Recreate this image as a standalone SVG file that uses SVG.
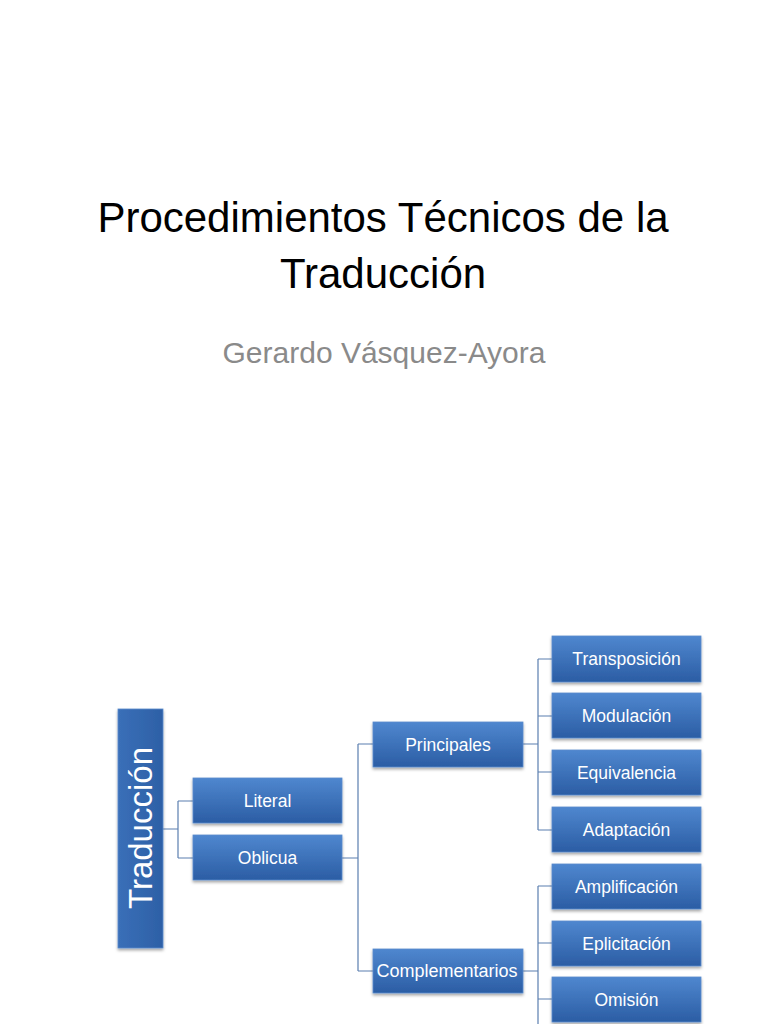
<svg xmlns="http://www.w3.org/2000/svg" width="768" height="1024" viewBox="0 0 768 1024">
<defs>
<linearGradient id="g" x1="0" y1="0" x2="0" y2="1">
<stop offset="0" stop-color="#4f87cf"/>
<stop offset="1" stop-color="#2b5da4"/>
</linearGradient>
<linearGradient id="gv" x1="0" y1="0" x2="1" y2="0">
<stop offset="0" stop-color="#3a6fb8"/>
<stop offset="1" stop-color="#2d60a6"/>
</linearGradient>
<filter id="sh" x="-20%" y="-20%" width="140%" height="150%">
<feDropShadow dx="0" dy="2" stdDeviation="1.5" flood-color="#000" flood-opacity="0.35"/>
</filter>
</defs>
<style>
.box{fill:url(#g);stroke:#5a8bcc;stroke-width:0.8;filter:url(#sh)}
.t{font-family:"Liberation Sans",Arial,sans-serif;font-size:17.5px;fill:#fff;text-anchor:middle}
.c{fill:none;stroke:#5b7fb0;stroke-width:1.2}
.title{font-family:"Liberation Sans",Arial,sans-serif;font-size:42px;fill:#000;text-anchor:middle}
.sub{font-family:"Liberation Sans",Arial,sans-serif;font-size:30px;fill:#8a8a8a;text-anchor:middle}
</style>
<rect width="768" height="1024" fill="#fff"/>
<text class="title" x="383" y="232">Procedimientos Técnicos de la</text>
<text class="title" x="383" y="288">Traducción</text>
<text class="sub" x="384" y="363">Gerardo Vásquez-Ayora</text>

<g id="connectors">
<path class="c" d="M163 829H178M178 801V858M178 801H193M178 858H193"/>
<path class="c" d="M342 858H358M358 744V971M358 744H373M358 971H373"/>
<path class="c" d="M523 744H538M538 659V830M538 659H552M538 716H552M538 772H552M538 830H552"/>
<path class="c" d="M523 971H538M538 886V1024M538 886H552M538 943H552M538 999H552"/>
</g>

<g id="traduccion"><rect class="box" x="118" y="709" width="45" height="239" style="fill:url(#gv)"/><text transform="translate(152,828) rotate(-90)" style="font-family:'Liberation Sans',Arial,sans-serif;font-size:33px;fill:#fff;text-anchor:middle">Traducción</text></g>
<g id="literal"><rect class="box" x="193" y="778" width="149" height="45"/><text class="t" x="267.5" y="807">Literal</text></g>
<g id="oblicua"><rect class="box" x="193" y="835" width="149" height="45"/><text class="t" x="267.5" y="864">Oblicua</text></g>
<g id="principales"><rect class="box" x="373" y="722" width="150" height="45"/><text class="t" x="448" y="751">Principales</text></g>
<g id="complementarios"><rect class="box" x="373" y="949" width="150" height="44"/><text class="t" x="447" y="977" style="font-size:18px">Complementarios</text></g>
<g id="transposicion"><rect class="box" x="552" y="636" width="149" height="46"/><text class="t" x="626.5" y="665">Transposición</text></g>
<g id="modulacion"><rect class="box" x="552" y="693" width="149" height="45"/><text class="t" x="626.5" y="722">Modulación</text></g>
<g id="equivalencia"><rect class="box" x="552" y="750" width="149" height="45"/><text class="t" x="626.5" y="779">Equivalencia</text></g>
<g id="adaptacion"><rect class="box" x="552" y="807" width="149" height="45"/><text class="t" x="626.5" y="836">Adaptación</text></g>
<g id="amplificacion"><rect class="box" x="552" y="864" width="149" height="45"/><text class="t" x="626.5" y="893">Amplificación</text></g>
<g id="eplicitacion"><rect class="box" x="552" y="921" width="149" height="45"/><text class="t" x="626.5" y="950">Eplicitación</text></g>
<g id="omision"><rect class="box" x="552" y="977" width="149" height="45"/><text class="t" x="626.5" y="1006">Omisión</text></g>
</svg>
